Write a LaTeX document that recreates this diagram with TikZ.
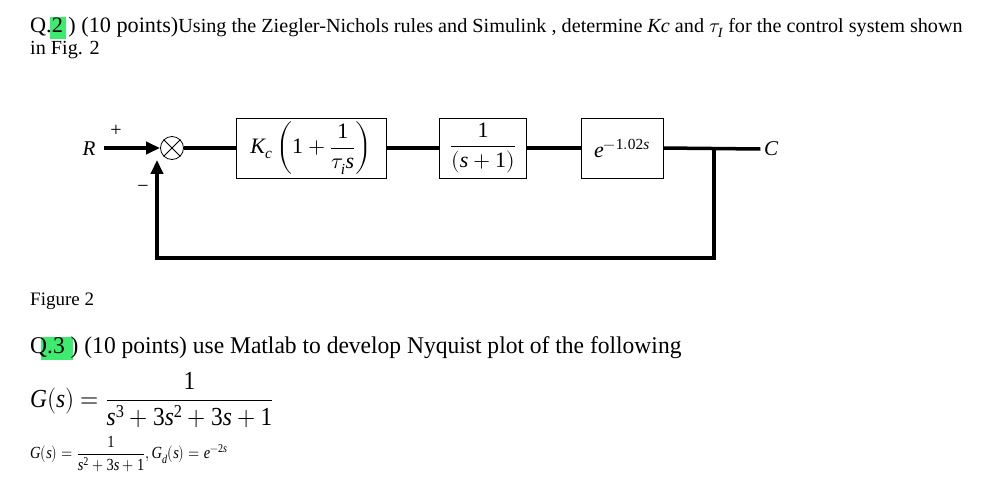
\documentclass[tikz,border=0pt]{standalone}
\usepackage{fontspec}
\setmainfont{Liberation Serif}
\usepackage{unicode-math}
\setmathfont{Latin Modern Math}
\setmathfont[range={up/{Latin,latin,num}}]{Liberation Serif}
\setmathfont[range={it/{Latin,latin}}]{Liberation Serif Italic}
\usetikzlibrary{arrows.meta}
\definecolor{hl}{HTML}{3DEB6E}
\begin{document}
\begin{tikzpicture}[x=1pt,y=-1pt,
  sig/.style={line width=3.5pt},
  blk/.style={draw,line width=0.8pt,minimum height=60pt,inner sep=2pt},
  txt/.style={anchor=west,inner sep=0pt}]
\useasboundingbox (0,0) rectangle (988,493);
% title
\fill[hl] (50,17) rectangle (66,39);
\node[txt] (t1) at (30,27) {\scalebox{1.01}[1]{\fontsize{22}{24}\selectfont Q.2 ) (10 points)\fontsize{20}{22}\selectfont Using the Ziegler-Nichols rules and Simulink , determine \textit{Kc} and $\tau_I$ for the control system shown}};
\node[txt] (t2) at (30,50) {\scalebox{1.01}[1]{\fontsize{20}{22}\selectfont in Fig. 2}};
% block diagram
\node (R) at (89,149) {\fontsize{21}{22}\selectfont $R$};
\coordinate (Rin) at (104,148);
\node[draw,circle,line width=0.8pt,minimum size=23pt,inner sep=0pt] (sum) at (172,148) {};
\draw[line width=0.8pt] (sum.45)--(sum.225) (sum.135)--(sum.315);
\node[blk,minimum width=150pt] (b1) at (311,148) {\fontsize{22}{24}\selectfont $K_c\left(1+\dfrac{1}{\tau_i s}\right)$};
\node[blk,minimum width=87pt] (b2) at (483,148) {\fontsize{22}{24}\selectfont $\dfrac{1}{(s+1)}$};
\node[blk,minimum width=82pt] (b3) at (622,148) {\fontsize{22}{24}\selectfont $e^{-1.02s}$};
\node (C) at (771,149) {\fontsize{21}{22}\selectfont $C$};
\coordinate (br) at (714,148);
\coordinate (fb1) at (714,258);
\coordinate (fb2) at (157,258);
\draw[sig,-{Triangle[length=14pt,width=12pt]}] (Rin) -- (sum.west);
\draw[sig] (sum.east) -- (b1.west);
\draw[sig] (b1.east) -- (b2.west);
\draw[sig] (b2.east) -- (b3.west);
\draw[sig] (b3.east) -- (C.west);
\draw[sig,-{Triangle[length=14pt,width=12pt]}] (br) -- (fb1) -- (fb2) -- (fb2|-sum.south);
\node (plus) at (116,131) {\fontsize{20}{22}\selectfont +};
\node (minus) at (143,189) {\fontsize{20}{22}\selectfont −};
% figure 2
\node[txt] (f2) at (30,301) {\fontsize{19}{22}\selectfont Figure 2};
% Q3
\fill[hl] (41,337) rectangle (73,360);
\node[txt] (q3) at (30,348) {\scalebox{0.98}[1]{\fontsize{24}{26}\selectfont Q.3 ) (10 points) use Matlab to develop Nyquist plot of the following}};
\node[txt] (eq1) at (30,400) {\scalebox{0.9}[1]{\fontsize{26}{28}\selectfont $G(s)=\dfrac{1}{s^3+3s^2+3s+1}$}};
\node[txt] (eq2) at (30,454) {\scalebox{0.85}[1]{\fontsize{17}{18}\selectfont $G(s)=\dfrac{1}{s^2+3s+1},G_d(s)=e^{-2s}$}};
\end{tikzpicture}
\end{document}
